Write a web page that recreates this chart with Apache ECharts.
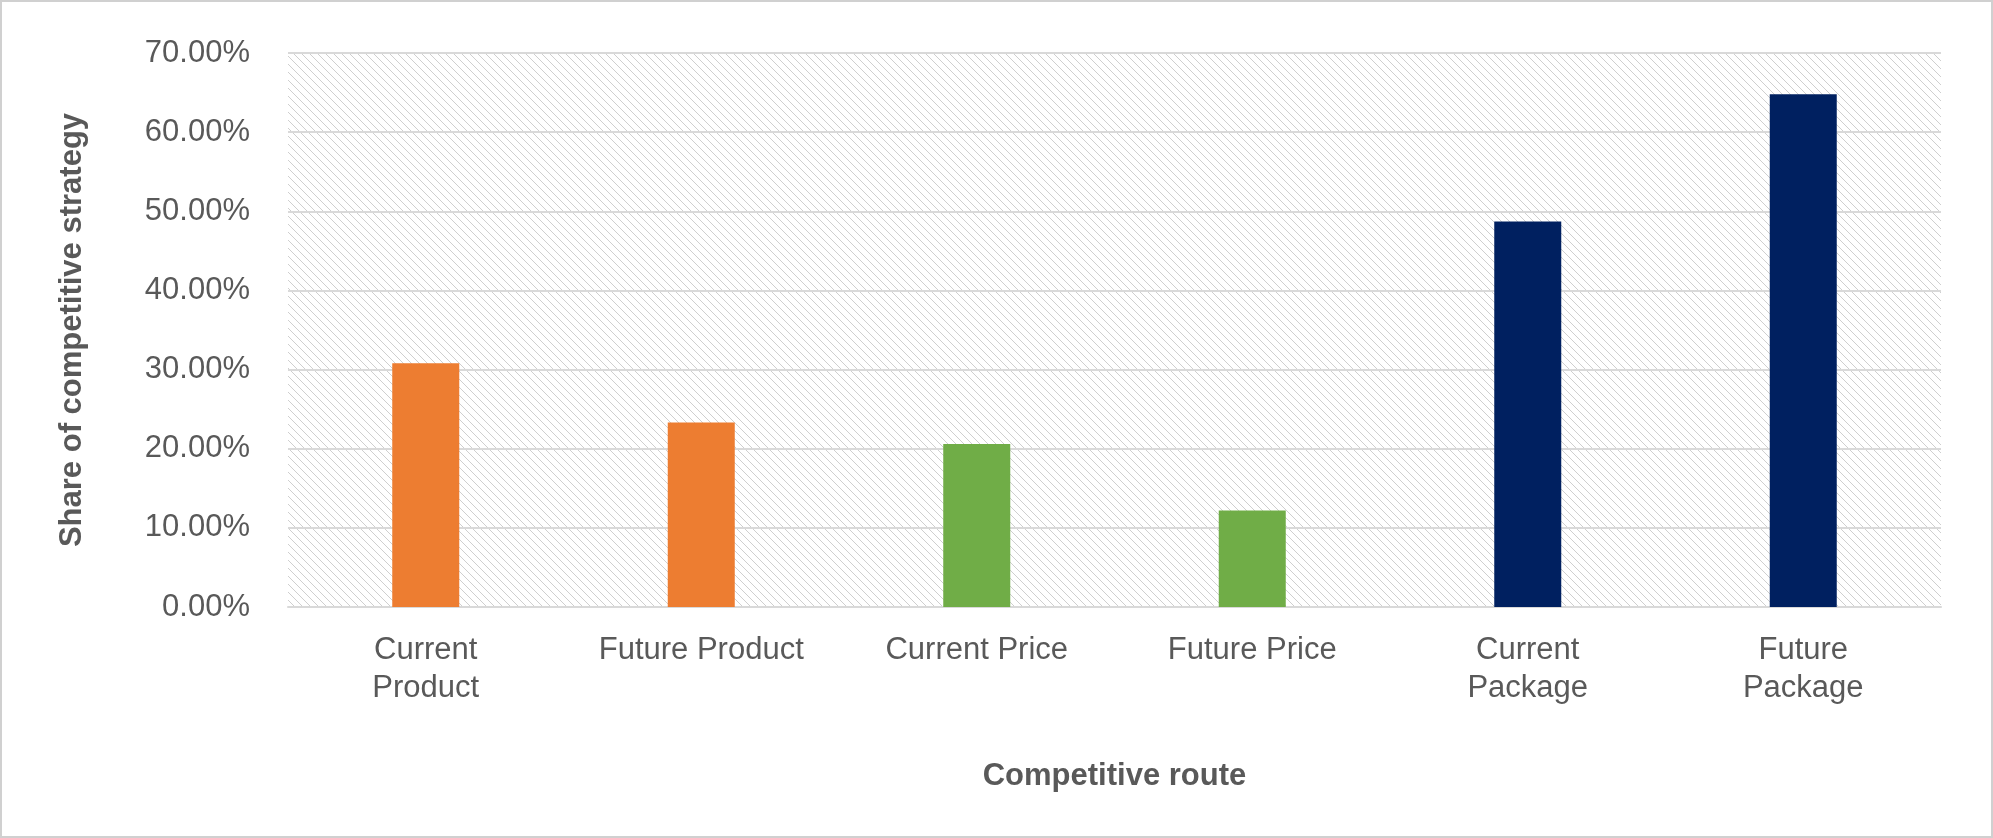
<!DOCTYPE html>
<html>
<head>
<meta charset="utf-8">
<script src="https://cdn.jsdelivr.net/npm/echarts@6/dist/echarts.min.js"></script>
<style>
  html, body { margin: 0; padding: 0; background: #fff; }
  #chart { width: 1993px; height: 838px; box-sizing: border-box; border: 2px solid #d0d0d0; }
</style>
</head>
<body>
<div id="chart"></div>
<script>
// route labels as they wrap in the original
const routes = ['Current\nProduct', 'Future Product', 'Current Price', 'Future Price', 'Current\nPackage', 'Future\nPackage'];
const shares = [30.8, 23.3, 20.6, 12.2, 48.7, 64.8];
const barColors = ['#ED7D31', '#ED7D31', '#70AD47', '#70AD47', '#002060', '#002060'];

// light diagonal hatch for the plot background
function hatch() {
  const c = document.createElement('canvas');
  c.width = 8; c.height = 8;
  const g = c.getContext('2d');
  g.fillStyle = '#ffffff';
  g.fillRect(0, 0, 8, 8);
  g.strokeStyle = '#cfcfcf';
  g.lineWidth = 1;
  g.beginPath();
  g.moveTo(0, 0); g.lineTo(8, 8);
  g.moveTo(-4, 4); g.lineTo(4, 12);
  g.moveTo(4, -4); g.lineTo(12, 4);
  g.stroke();
  return c;
}

const chart = echarts.init(document.getElementById('chart'));
const font = 'Liberation Sans, Arial, sans-serif';

chart.setOption({
  animation: false,
  grid: {
    left: 286, right: 50, top: 51, bottom: 229,
    show: true,
    borderWidth: 0,
    backgroundColor: { image: hatch(), repeat: 'repeat' }
  },
  xAxis: {
    type: 'category',
    data: routes,
    name: 'Competitive route',
    nameLocation: 'middle',
    nameGap: 154,
    nameTextStyle: { fontFamily: font, fontSize: 31, fontWeight: 'bold', color: '#595959' },
    axisTick: { show: false },
    axisLine: { lineStyle: { color: '#d9d9d9', width: 2 } },
    axisLabel: { fontFamily: font, fontSize: 31, color: '#595959', margin: 24, lineHeight: 38, interval: 0 }
  },
  yAxis: {
    type: 'value',
    min: 0, max: 70, interval: 10,
    name: 'Share of competitive strategy',
    nameLocation: 'middle',
    nameGap: 200,
    nameTextStyle: { fontFamily: font, fontSize: 31, fontWeight: 'bold', color: '#595959' },
    axisLabel: { fontFamily: font, fontSize: 31, color: '#595959', margin: 38, formatter: v => v.toFixed(2) + '%' },
    splitLine: { lineStyle: { color: '#d9d9d9', width: 2 } },
    axisLine: { show: false },
    axisTick: { show: false }
  },
  series: [{
    type: 'bar',
    barWidth: 67,
    data: shares.map((v, i) => ({ value: v, itemStyle: { color: barColors[i] } }))
  }]
});
</script>
</body>
</html>
